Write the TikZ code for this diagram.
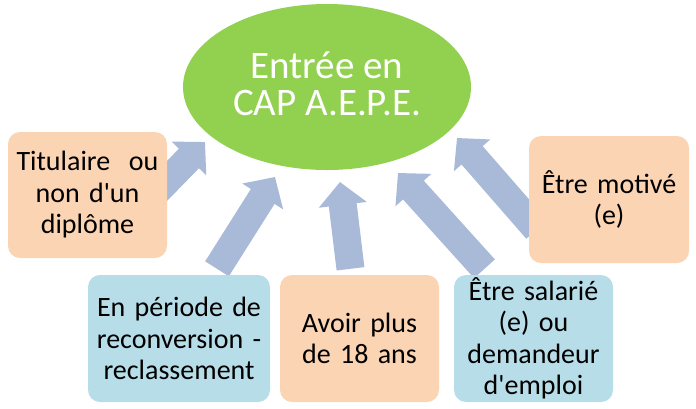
\documentclass[tikz,border=0pt]{standalone}
\usepackage{fontspec}
\setmainfont{Carlito}
\usetikzlibrary{arrows.meta,shapes.geometric}
\pgfdeclarelayer{bg}
\pgfsetlayers{bg,main}
\definecolor{peach}{HTML}{FBD4B4}
\definecolor{aqua}{HTML}{B7DDE8}
\definecolor{arrowc}{HTML}{A9BAD9}
\definecolor{lime}{HTML}{92D050}
\newcommand{\ap}{\textquotesingle}
\tikzset{
  box/.style={rectangle, rounded corners=12pt, inner sep=0pt, align=center,
    font=\fontsize{28}{31.5}\selectfont, text=black},
  pbox/.style={box, fill=peach},
  abox/.style={box, fill=aqua},
  blk/.style={line width=28pt, draw=arrowc, -{Triangle[width=47pt,length=23pt]}},
}
\begin{document}
\begin{tikzpicture}[x=1pt,y=-1pt]
\useasboundingbox (0,0) rectangle (696,408);
\node[ellipse, fill=lime, minimum width=288pt, minimum height=166pt, inner sep=0pt] (ent) at (327,87) {};
\node[text=white, align=center, font=\fontsize{39}{37}\selectfont] (entt) at (327,84)
  {Entrée en\\CAP A.E.P.E.};
\node[pbox, minimum width=159pt, minimum height=126pt, text width=159pt] (tit) at (87.5,195)
  {Titulaire\ \ ou\\non d\ap un\\diplôme};
\node[abox, minimum width=182pt, minimum height=127pt, text width=182pt] (per) at (179,338.5)
  {En période de\\reconversion -\\reclassement};
\node[pbox, minimum width=159pt, minimum height=127pt, text width=159pt] (avo) at (359.5,338.5)
  {Avoir plus\\de 18 ans};
\node[abox, minimum width=159pt, minimum height=127pt, text width=159pt] (sal) at (533.5,338.5)
  {Être salarié\\(e) ou\\demandeur\\d\ap emploi};
\node[pbox, minimum width=160pt, minimum height=127pt, text width=160pt] (mot) at (609,199.5)
  {Être motivé\\(e)};
\coordinate (t1) at (205,142);
\coordinate (t2) at (275,177);
\coordinate (t3) at (340,182);
\coordinate (t4) at (398,173);
\coordinate (t5) at (457,138);
\begin{pgfonlayer}{bg}
\draw[blk] ([xshift=-10pt,yshift=4pt]tit.east) -- (t1);
\draw[blk] ([xshift=38pt,yshift=6pt]per.north) -- (t2);
\draw[blk] ([xshift=-9pt,yshift=6pt]avo.north) -- (t3);
\draw[blk] ([xshift=-49pt,yshift=6pt]sal.north) -- (t4);
\draw[blk] ([xshift=8pt,yshift=-30pt]mot.west) -- (t5);
\end{pgfonlayer}
\end{tikzpicture}
\end{document}
